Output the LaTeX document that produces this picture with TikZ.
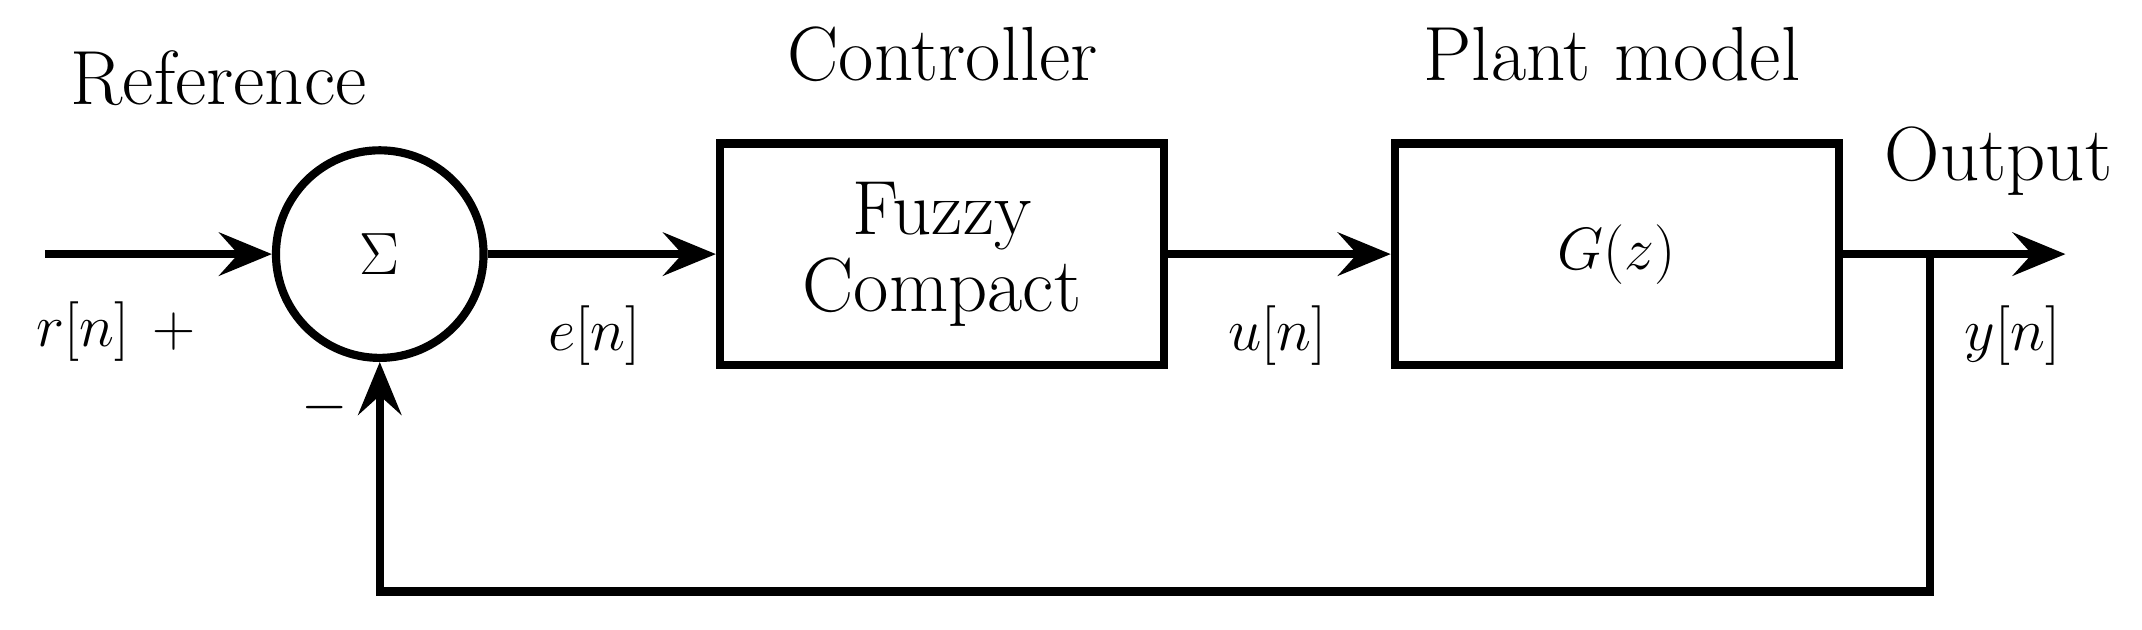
\documentclass[tikz,border=0pt]{standalone}
\usetikzlibrary{arrows.meta}
\begin{document}
\begin{tikzpicture}[x=0.02cm,y=-0.02cm,line width=3.4pt,
  every node/.style={font=\fontsize{32}{38}\selectfont},
  blk/.style={draw,minimum width=6.5cm,minimum height=3.24cm,inner sep=0pt},
  arr/.style={-{Stealth[length=22pt,width=18pt,inset=8pt]}},
  lbl/.style={inner sep=0pt}]
\useasboundingbox (0,0) rectangle (1568,461);
\coordinate (in) at (33,186);
\node[draw,circle,minimum size=3.04cm,inner sep=0pt] (sum) at (278,186) {\fontsize{44}{50}\selectfont$\Sigma$};
\node[blk,align=center] (ctrl) at (689.5,186) {Fuzzy\\[-6pt]Compact};
\node[blk] (plant) at (1183.5,186) {$G(z)$};
\coordinate (out) at (1512,186);
\coordinate (br) at (1413,186);
\coordinate (bl) at (1413,433);
\coordinate (fl) at (278,433);
\draw[arr] (in) -- (sum.west);
\draw[arr] (sum.east) -- (ctrl.west);
\draw[arr] (ctrl.east) -- (plant.west);
\draw[arr] (plant.east) -- (out);
\draw[arr] (br) -- (bl) -- (fl) -- (sum.south);
\node[lbl] (t1) at (160,57) {Reference};
\node[lbl] (t2) at (690,40) {Controller};
\node[lbl] (t3) at (1180,40) {Plant model};
\node[lbl] (t4) at (1463,118) {Output};
\node[lbl] (l1) at (85,243) {$r[n]$ $+$};
\node[lbl] (l2) at (435,246) {$e[n]$};
\node[lbl] (l3) at (935,246) {$u[n]$};
\node[lbl] (l4) at (1473,246) {$y[n]$};
\node[lbl] (l5) at (238,298) {$-$};
\end{tikzpicture}
\end{document}
